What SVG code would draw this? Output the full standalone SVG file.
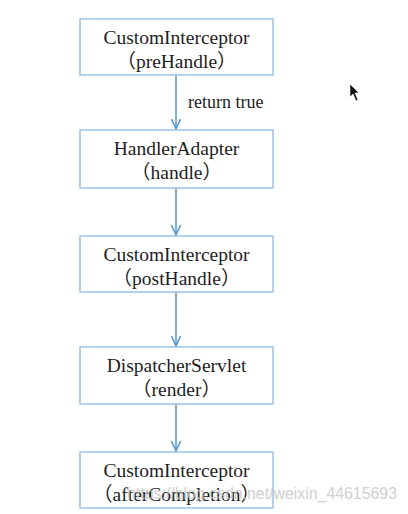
<svg xmlns="http://www.w3.org/2000/svg" width="408" height="514" viewBox="0 0 408 514">
<defs>
<style>
.box{fill:#ffffff;stroke:#9dc3e6;stroke-width:1.5}
.t{font-family:"Liberation Serif","Noto Sans CJK SC",serif;font-size:19.5px;fill:#1e1e1e;text-anchor:middle}
.lbl{font-family:"Liberation Serif",serif;font-size:18px;fill:#1e1e1e}
.c{stroke:#5b9bd5;stroke-width:1.6;fill:none}
.wm{font-family:"Liberation Sans",sans-serif;font-size:16px;fill:#c8c8c8;opacity:0.85}
</style>
<marker id="ah" viewBox="0 0 12 10" refX="11" refY="5" markerWidth="12" markerHeight="10" markerUnits="userSpaceOnUse" orient="auto">
<path d="M1,0.5 L11,5 L1,9.5" fill="none" stroke="#5b9bd5" stroke-width="1.6"/>
</marker>
</defs>
<rect width="408" height="514" fill="#ffffff"/>
<g id="connectors">
<line class="c" x1="176" y1="75" x2="176" y2="129" marker-end="url(#ah)"/>
<line class="c" x1="176" y1="188" x2="176" y2="235" marker-end="url(#ah)"/>
<line class="c" x1="176" y1="292" x2="176" y2="346" marker-end="url(#ah)"/>
<line class="c" x1="176" y1="404" x2="176" y2="451" marker-end="url(#ah)"/>
<text class="lbl" x="188" y="108">return true</text>
</g>
<g id="n1">
<rect class="box" x="80" y="19" width="193" height="56"/>
<text class="t" x="176.5" y="44">CustomInterceptor</text>
<text class="t" x="176.5" y="68">（preHandle）</text>
</g>
<g id="n2">
<rect class="box" x="80" y="130" width="193" height="58"/>
<text class="t" x="176.5" y="155">HandlerAdapter</text>
<text class="t" x="176.5" y="179">（handle）</text>
</g>
<g id="n3">
<rect class="box" x="80" y="236" width="193" height="56"/>
<text class="t" x="176.5" y="261">CustomInterceptor</text>
<text class="t" x="176.5" y="285">（postHandle）</text>
</g>
<g id="n4">
<rect class="box" x="80" y="347" width="193" height="57"/>
<text class="t" x="176.5" y="372">DispatcherServlet</text>
<text class="t" x="176.5" y="396">（render）</text>
</g>
<g id="n5">
<rect class="box" x="80" y="452" width="193" height="56"/>
<text class="t" x="176.5" y="477">CustomInterceptor</text>
<text class="t" x="176.5" y="501">（afterCompletion）</text>
</g>
<text class="wm" x="127" y="499" textLength="270" lengthAdjust="spacingAndGlyphs">https://blog.csdn.net/weixin_44615693</text>
<path d="M350,84 L350,97 L353,94 L356,101 L358,100 L355,93 L359,93 Z" fill="#111111" stroke="#ffffff" stroke-width="0.6"/>
</svg>
